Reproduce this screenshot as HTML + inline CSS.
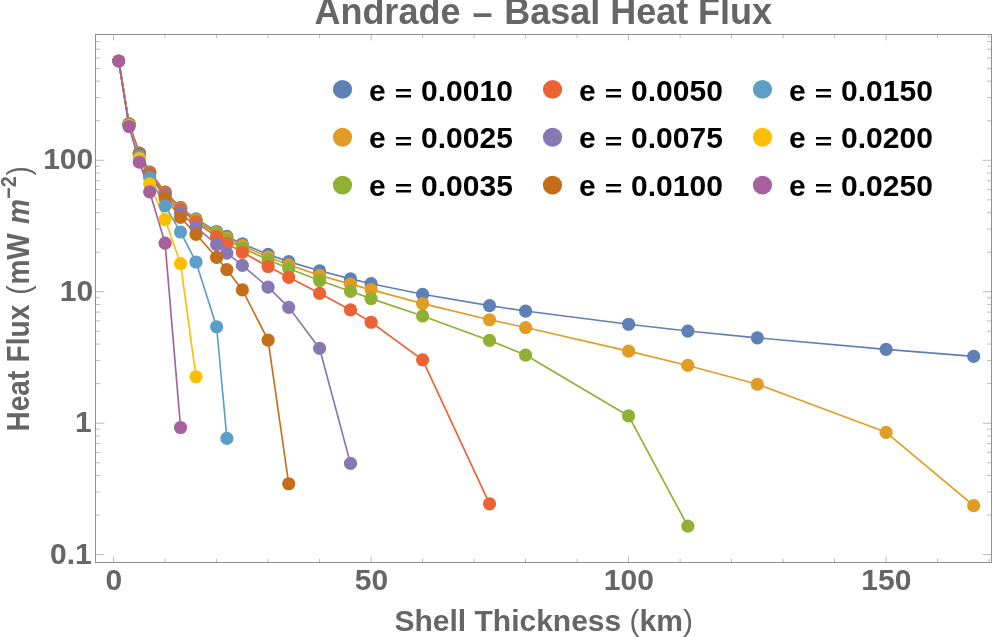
<!DOCTYPE html>
<html><head><meta charset="utf-8"><title>Andrade - Basal Heat Flux</title>
<style>
html,body{margin:0;padding:0;background:#fff;}
body{width:992px;height:637px;overflow:hidden;}
svg{display:block;}
text{font-family:"Liberation Sans",Arial,Helvetica,sans-serif;font-weight:bold;}
.g{fill:#666;}
.k{fill:#000;}
</style></head><body>
<svg width="992" height="637" viewBox="0 0 992 637">
<rect width="992" height="637" fill="#fff"/>
<g><path d="M113.6 562.5v-6M113.6 34.5v6" stroke="#8c8c8c" stroke-width="0.6" fill="none"/>
<path d="M165.1 562.5v-3.8M165.1 34.5v3.8" stroke="#8c8c8c" stroke-width="0.6" fill="none"/>
<path d="M216.6 562.5v-3.8M216.6 34.5v3.8" stroke="#8c8c8c" stroke-width="0.6" fill="none"/>
<path d="M268.1 562.5v-3.8M268.1 34.5v3.8" stroke="#8c8c8c" stroke-width="0.6" fill="none"/>
<path d="M319.6 562.5v-3.8M319.6 34.5v3.8" stroke="#8c8c8c" stroke-width="0.6" fill="none"/>
<path d="M371.1 562.5v-6M371.1 34.5v6" stroke="#8c8c8c" stroke-width="0.6" fill="none"/>
<path d="M422.6 562.5v-3.8M422.6 34.5v3.8" stroke="#8c8c8c" stroke-width="0.6" fill="none"/>
<path d="M474.1 562.5v-3.8M474.1 34.5v3.8" stroke="#8c8c8c" stroke-width="0.6" fill="none"/>
<path d="M525.6 562.5v-3.8M525.6 34.5v3.8" stroke="#8c8c8c" stroke-width="0.6" fill="none"/>
<path d="M577.1 562.5v-3.8M577.1 34.5v3.8" stroke="#8c8c8c" stroke-width="0.6" fill="none"/>
<path d="M628.6 562.5v-6M628.6 34.5v6" stroke="#8c8c8c" stroke-width="0.6" fill="none"/>
<path d="M680.1 562.5v-3.8M680.1 34.5v3.8" stroke="#8c8c8c" stroke-width="0.6" fill="none"/>
<path d="M731.6 562.5v-3.8M731.6 34.5v3.8" stroke="#8c8c8c" stroke-width="0.6" fill="none"/>
<path d="M783.1 562.5v-3.8M783.1 34.5v3.8" stroke="#8c8c8c" stroke-width="0.6" fill="none"/>
<path d="M834.6 562.5v-3.8M834.6 34.5v3.8" stroke="#8c8c8c" stroke-width="0.6" fill="none"/>
<path d="M886.1 562.5v-6M886.1 34.5v6" stroke="#8c8c8c" stroke-width="0.6" fill="none"/>
<path d="M937.6 562.5v-3.8M937.6 34.5v3.8" stroke="#8c8c8c" stroke-width="0.6" fill="none"/>
<path d="M989.1 562.5v-3.8M989.1 34.5v3.8" stroke="#8c8c8c" stroke-width="0.6" fill="none"/>
<path d="M95.5 554.65h8.8M991.5 554.65h-8.8" stroke="#8c8c8c" stroke-width="0.6" fill="none"/>
<path d="M95.5 515.08h4.4M991.5 515.08h-4.4" stroke="#8c8c8c" stroke-width="0.6" fill="none"/>
<path d="M95.5 491.93h4.4M991.5 491.93h-4.4" stroke="#8c8c8c" stroke-width="0.6" fill="none"/>
<path d="M95.5 475.51h4.4M991.5 475.51h-4.4" stroke="#8c8c8c" stroke-width="0.6" fill="none"/>
<path d="M95.5 462.77h4.4M991.5 462.77h-4.4" stroke="#8c8c8c" stroke-width="0.6" fill="none"/>
<path d="M95.5 452.36h4.4M991.5 452.36h-4.4" stroke="#8c8c8c" stroke-width="0.6" fill="none"/>
<path d="M95.5 443.56h4.4M991.5 443.56h-4.4" stroke="#8c8c8c" stroke-width="0.6" fill="none"/>
<path d="M95.5 435.94h4.4M991.5 435.94h-4.4" stroke="#8c8c8c" stroke-width="0.6" fill="none"/>
<path d="M95.5 429.21h4.4M991.5 429.21h-4.4" stroke="#8c8c8c" stroke-width="0.6" fill="none"/>
<path d="M95.5 423.2h8.8M991.5 423.2h-8.8" stroke="#8c8c8c" stroke-width="0.6" fill="none"/>
<path d="M95.5 383.63h4.4M991.5 383.63h-4.4" stroke="#8c8c8c" stroke-width="0.6" fill="none"/>
<path d="M95.5 360.48h4.4M991.5 360.48h-4.4" stroke="#8c8c8c" stroke-width="0.6" fill="none"/>
<path d="M95.5 344.06h4.4M991.5 344.06h-4.4" stroke="#8c8c8c" stroke-width="0.6" fill="none"/>
<path d="M95.5 331.32h4.4M991.5 331.32h-4.4" stroke="#8c8c8c" stroke-width="0.6" fill="none"/>
<path d="M95.5 320.91h4.4M991.5 320.91h-4.4" stroke="#8c8c8c" stroke-width="0.6" fill="none"/>
<path d="M95.5 312.11h4.4M991.5 312.11h-4.4" stroke="#8c8c8c" stroke-width="0.6" fill="none"/>
<path d="M95.5 304.49h4.4M991.5 304.49h-4.4" stroke="#8c8c8c" stroke-width="0.6" fill="none"/>
<path d="M95.5 297.76h4.4M991.5 297.76h-4.4" stroke="#8c8c8c" stroke-width="0.6" fill="none"/>
<path d="M95.5 291.75h8.8M991.5 291.75h-8.8" stroke="#8c8c8c" stroke-width="0.6" fill="none"/>
<path d="M95.5 252.18h4.4M991.5 252.18h-4.4" stroke="#8c8c8c" stroke-width="0.6" fill="none"/>
<path d="M95.5 229.03h4.4M991.5 229.03h-4.4" stroke="#8c8c8c" stroke-width="0.6" fill="none"/>
<path d="M95.5 212.61h4.4M991.5 212.61h-4.4" stroke="#8c8c8c" stroke-width="0.6" fill="none"/>
<path d="M95.5 199.87h4.4M991.5 199.87h-4.4" stroke="#8c8c8c" stroke-width="0.6" fill="none"/>
<path d="M95.5 189.46h4.4M991.5 189.46h-4.4" stroke="#8c8c8c" stroke-width="0.6" fill="none"/>
<path d="M95.5 180.66h4.4M991.5 180.66h-4.4" stroke="#8c8c8c" stroke-width="0.6" fill="none"/>
<path d="M95.5 173.04h4.4M991.5 173.04h-4.4" stroke="#8c8c8c" stroke-width="0.6" fill="none"/>
<path d="M95.5 166.31h4.4M991.5 166.31h-4.4" stroke="#8c8c8c" stroke-width="0.6" fill="none"/>
<path d="M95.5 160.3h8.8M991.5 160.3h-8.8" stroke="#8c8c8c" stroke-width="0.6" fill="none"/>
<path d="M95.5 120.73h4.4M991.5 120.73h-4.4" stroke="#8c8c8c" stroke-width="0.6" fill="none"/>
<path d="M95.5 97.58h4.4M991.5 97.58h-4.4" stroke="#8c8c8c" stroke-width="0.6" fill="none"/>
<path d="M95.5 81.16h4.4M991.5 81.16h-4.4" stroke="#8c8c8c" stroke-width="0.6" fill="none"/>
<path d="M95.5 68.42h4.4M991.5 68.42h-4.4" stroke="#8c8c8c" stroke-width="0.6" fill="none"/>
<path d="M95.5 58.01h4.4M991.5 58.01h-4.4" stroke="#8c8c8c" stroke-width="0.6" fill="none"/>
<path d="M95.5 49.21h4.4M991.5 49.21h-4.4" stroke="#8c8c8c" stroke-width="0.6" fill="none"/>
<path d="M95.5 41.59h4.4M991.5 41.59h-4.4" stroke="#8c8c8c" stroke-width="0.6" fill="none"/></g>
<rect x="95.5" y="34.5" width="896.0" height="528.0" fill="none" stroke="#858585" stroke-width="0.9"/>
<path d="M118.75 61.0 L129.05 123.9 L139.35 153.1 L149.65 172.0 L165.1 192.0 L180.55 207.4 L196.0 218.8 L216.6 231.5 L226.9 236.45 L242.35 243.9 L268.1 254.4 L288.7 261.6 L319.6 270.8 L350.5 278.9 L371.1 283.7 L422.6 294.3 L489.55 305.65 L525.6 311.05 L628.6 324.25 L687.83 331.05 L757.35 337.85 L886.1 349.35 L973.65 356.35" fill="none" stroke="#5E81B5" stroke-width="1.65" stroke-linejoin="round"/>
<path d="M118.75 61.0 L129.05 124.0 L139.35 153.2 L149.65 172.1 L165.1 192.2 L180.55 207.8 L196.0 219.5 L216.6 232.7 L226.9 237.85 L242.35 245.65 L268.1 257.0 L288.7 264.8 L319.6 275.4 L350.5 284.1 L371.1 289.6 L422.6 303.6 L489.55 319.75 L525.6 327.55 L628.6 351.15 L687.83 365.45 L757.35 384.25 L886.1 432.35 L973.65 505.55" fill="none" stroke="#E19C24" stroke-width="1.65" stroke-linejoin="round"/>
<path d="M118.75 61.0 L129.05 124.1 L139.35 153.4 L149.65 172.3 L165.1 192.45 L180.55 208.25 L196.0 220.3 L216.6 233.95 L226.9 239.75 L242.35 248.05 L268.1 259.8 L288.7 268.4 L319.6 280.5 L350.5 291.3 L371.1 298.6 L422.6 316.0 L489.55 340.45 L525.6 355.05 L628.6 415.95 L687.83 526.15" fill="none" stroke="#8FB032" stroke-width="1.65" stroke-linejoin="round"/>
<path d="M118.75 61.0 L129.05 124.2 L139.35 153.6 L149.65 172.6 L165.1 192.9 L180.55 209.2 L196.0 222.0 L216.6 236.95 L226.9 243.45 L242.35 252.25 L268.1 266.5 L288.7 277.3 L319.6 293.35 L350.5 309.9 L371.1 322.25 L422.6 359.85 L489.55 503.85" fill="none" stroke="#EB6235" stroke-width="1.65" stroke-linejoin="round"/>
<path d="M118.75 61.0 L129.05 124.3 L139.35 153.9 L149.65 173.0 L165.1 195.2 L180.55 212.9 L196.0 227.0 L216.6 244.65 L226.9 253.05 L242.35 265.45 L268.1 287.15 L288.7 307.35 L319.6 348.45 L350.5 463.45" fill="none" stroke="#8778B3" stroke-width="1.65" stroke-linejoin="round"/>
<path d="M118.75 61.0 L129.05 124.4 L139.35 154.3 L149.65 174.5 L165.1 198.1 L180.55 217.4 L196.0 234.3 L216.6 257.45 L226.9 269.65 L242.35 289.95 L268.1 340.05 L288.7 483.75" fill="none" stroke="#C56E1A" stroke-width="1.65" stroke-linejoin="round"/>
<path d="M118.75 61.0 L129.05 124.8 L139.35 156.3 L149.65 177.6 L165.1 205.8 L180.55 232.0 L196.0 262.0 L216.6 326.75 L226.9 438.45" fill="none" stroke="#5D9EC7" stroke-width="1.65" stroke-linejoin="round"/>
<path d="M118.75 60.6 L129.05 125.7 L139.35 158.5 L149.65 183.8 L165.1 219.5 L180.55 263.6 L196.0 376.75" fill="none" stroke="#FFBF00" stroke-width="1.65" stroke-linejoin="round"/>
<path d="M118.75 61.0 L129.05 126.5 L139.35 162.2 L149.65 191.8 L165.1 243.2 L180.55 427.5" fill="none" stroke="#A5609D" stroke-width="1.65" stroke-linejoin="round"/>
<g fill="#5E81B5"><circle cx="118.75" cy="61.0" r="6.2"/><circle cx="129.05" cy="123.9" r="6.6"/><circle cx="139.35" cy="153.1" r="6.6"/><circle cx="149.65" cy="172.0" r="6.6"/><circle cx="165.1" cy="192.0" r="6.6"/><circle cx="180.55" cy="207.4" r="6.6"/><circle cx="196.0" cy="218.8" r="6.6"/><circle cx="216.6" cy="231.5" r="6.6"/><circle cx="226.9" cy="236.45" r="6.6"/><circle cx="242.35" cy="243.9" r="6.6"/><circle cx="268.1" cy="254.4" r="6.6"/><circle cx="288.7" cy="261.6" r="6.6"/><circle cx="319.6" cy="270.8" r="6.6"/><circle cx="350.5" cy="278.9" r="6.6"/><circle cx="371.1" cy="283.7" r="6.6"/><circle cx="422.6" cy="294.3" r="6.6"/><circle cx="489.55" cy="305.65" r="6.6"/><circle cx="525.6" cy="311.05" r="6.6"/><circle cx="628.6" cy="324.25" r="6.6"/><circle cx="687.83" cy="331.05" r="6.6"/><circle cx="757.35" cy="337.85" r="6.6"/><circle cx="886.1" cy="349.35" r="6.6"/><circle cx="973.65" cy="356.35" r="6.6"/></g>
<g fill="#E19C24"><circle cx="118.75" cy="61.0" r="6.2"/><circle cx="129.05" cy="124.0" r="6.6"/><circle cx="139.35" cy="153.2" r="6.6"/><circle cx="149.65" cy="172.1" r="6.6"/><circle cx="165.1" cy="192.2" r="6.6"/><circle cx="180.55" cy="207.8" r="6.6"/><circle cx="196.0" cy="219.5" r="6.6"/><circle cx="216.6" cy="232.7" r="6.6"/><circle cx="226.9" cy="237.85" r="6.6"/><circle cx="242.35" cy="245.65" r="6.6"/><circle cx="268.1" cy="257.0" r="6.6"/><circle cx="288.7" cy="264.8" r="6.6"/><circle cx="319.6" cy="275.4" r="6.6"/><circle cx="350.5" cy="284.1" r="6.6"/><circle cx="371.1" cy="289.6" r="6.6"/><circle cx="422.6" cy="303.6" r="6.6"/><circle cx="489.55" cy="319.75" r="6.6"/><circle cx="525.6" cy="327.55" r="6.6"/><circle cx="628.6" cy="351.15" r="6.6"/><circle cx="687.83" cy="365.45" r="6.6"/><circle cx="757.35" cy="384.25" r="6.6"/><circle cx="886.1" cy="432.35" r="6.6"/><circle cx="973.65" cy="505.55" r="6.6"/></g>
<g fill="#8FB032"><circle cx="118.75" cy="61.0" r="6.2"/><circle cx="129.05" cy="124.1" r="6.6"/><circle cx="139.35" cy="153.4" r="6.6"/><circle cx="149.65" cy="172.3" r="6.6"/><circle cx="165.1" cy="192.45" r="6.6"/><circle cx="180.55" cy="208.25" r="6.6"/><circle cx="196.0" cy="220.3" r="6.6"/><circle cx="216.6" cy="233.95" r="6.6"/><circle cx="226.9" cy="239.75" r="6.6"/><circle cx="242.35" cy="248.05" r="6.6"/><circle cx="268.1" cy="259.8" r="6.6"/><circle cx="288.7" cy="268.4" r="6.6"/><circle cx="319.6" cy="280.5" r="6.6"/><circle cx="350.5" cy="291.3" r="6.6"/><circle cx="371.1" cy="298.6" r="6.6"/><circle cx="422.6" cy="316.0" r="6.6"/><circle cx="489.55" cy="340.45" r="6.6"/><circle cx="525.6" cy="355.05" r="6.6"/><circle cx="628.6" cy="415.95" r="6.6"/><circle cx="687.83" cy="526.15" r="6.6"/></g>
<g fill="#EB6235"><circle cx="118.75" cy="61.0" r="6.2"/><circle cx="129.05" cy="124.2" r="6.6"/><circle cx="139.35" cy="153.6" r="6.6"/><circle cx="149.65" cy="172.6" r="6.6"/><circle cx="165.1" cy="192.9" r="6.6"/><circle cx="180.55" cy="209.2" r="6.6"/><circle cx="196.0" cy="222.0" r="6.6"/><circle cx="216.6" cy="236.95" r="6.6"/><circle cx="226.9" cy="243.45" r="6.6"/><circle cx="242.35" cy="252.25" r="6.6"/><circle cx="268.1" cy="266.5" r="6.6"/><circle cx="288.7" cy="277.3" r="6.6"/><circle cx="319.6" cy="293.35" r="6.6"/><circle cx="350.5" cy="309.9" r="6.6"/><circle cx="371.1" cy="322.25" r="6.6"/><circle cx="422.6" cy="359.85" r="6.6"/><circle cx="489.55" cy="503.85" r="6.6"/></g>
<g fill="#8778B3"><circle cx="118.75" cy="61.0" r="6.2"/><circle cx="129.05" cy="124.3" r="6.6"/><circle cx="139.35" cy="153.9" r="6.6"/><circle cx="149.65" cy="173.0" r="6.6"/><circle cx="165.1" cy="195.2" r="6.6"/><circle cx="180.55" cy="212.9" r="6.6"/><circle cx="196.0" cy="227.0" r="6.6"/><circle cx="216.6" cy="244.65" r="6.6"/><circle cx="226.9" cy="253.05" r="6.6"/><circle cx="242.35" cy="265.45" r="6.6"/><circle cx="268.1" cy="287.15" r="6.6"/><circle cx="288.7" cy="307.35" r="6.6"/><circle cx="319.6" cy="348.45" r="6.6"/><circle cx="350.5" cy="463.45" r="6.6"/></g>
<g fill="#C56E1A"><circle cx="118.75" cy="61.0" r="6.2"/><circle cx="129.05" cy="124.4" r="6.6"/><circle cx="139.35" cy="154.3" r="6.6"/><circle cx="149.65" cy="174.5" r="6.6"/><circle cx="165.1" cy="198.1" r="6.6"/><circle cx="180.55" cy="217.4" r="6.6"/><circle cx="196.0" cy="234.3" r="6.6"/><circle cx="216.6" cy="257.45" r="6.6"/><circle cx="226.9" cy="269.65" r="6.6"/><circle cx="242.35" cy="289.95" r="6.6"/><circle cx="268.1" cy="340.05" r="6.6"/><circle cx="288.7" cy="483.75" r="6.6"/></g>
<g fill="#5D9EC7"><circle cx="118.75" cy="61.0" r="6.2"/><circle cx="129.05" cy="124.8" r="6.6"/><circle cx="139.35" cy="156.3" r="6.6"/><circle cx="149.65" cy="177.6" r="6.6"/><circle cx="165.1" cy="205.8" r="6.6"/><circle cx="180.55" cy="232.0" r="6.6"/><circle cx="196.0" cy="262.0" r="6.6"/><circle cx="216.6" cy="326.75" r="6.6"/><circle cx="226.9" cy="438.45" r="6.6"/></g>
<g fill="#FFBF00"><circle cx="118.75" cy="60.6" r="6.2"/><circle cx="129.05" cy="125.7" r="6.6"/><circle cx="139.35" cy="158.5" r="6.6"/><circle cx="149.65" cy="183.8" r="6.6"/><circle cx="165.1" cy="219.5" r="6.6"/><circle cx="180.55" cy="263.6" r="6.6"/><circle cx="196.0" cy="376.75" r="6.6"/></g>
<g fill="#A5609D"><circle cx="118.75" cy="61.0" r="6.6"/><circle cx="129.05" cy="126.5" r="6.6"/><circle cx="139.35" cy="162.2" r="6.6"/><circle cx="149.65" cy="191.8" r="6.6"/><circle cx="165.1" cy="243.2" r="6.6"/><circle cx="180.55" cy="427.5" r="6.6"/></g>
<ellipse cx="342.5" cy="89.45" rx="9.6" ry="9.4" fill="#5E81B5"/><text class="k" y="100.6" font-size="30"><tspan x="368.9">e </tspan><tspan x="394.8" dy="0.2" font-size="22.5" textLength="25.86" lengthAdjust="spacingAndGlyphs">= </tspan><tspan x="421.1" dy="-0.2">0.0010</tspan></text>
<ellipse cx="342.5" cy="137.25" rx="9.6" ry="9.4" fill="#E19C24"/><text class="k" y="148.4" font-size="30"><tspan x="368.9">e </tspan><tspan x="394.8" dy="0.2" font-size="22.5" textLength="25.86" lengthAdjust="spacingAndGlyphs">= </tspan><tspan x="421.1" dy="-0.2">0.0025</tspan></text>
<ellipse cx="342.5" cy="185.05" rx="9.6" ry="9.4" fill="#8FB032"/><text class="k" y="196.2" font-size="30"><tspan x="368.9">e </tspan><tspan x="394.8" dy="0.2" font-size="22.5" textLength="25.86" lengthAdjust="spacingAndGlyphs">= </tspan><tspan x="421.1" dy="-0.2">0.0035</tspan></text>
<ellipse cx="552.5" cy="89.45" rx="9.6" ry="9.4" fill="#EB6235"/><text class="k" y="100.6" font-size="30"><tspan x="578.9">e </tspan><tspan x="604.8" dy="0.2" font-size="22.5" textLength="25.86" lengthAdjust="spacingAndGlyphs">= </tspan><tspan x="631.1" dy="-0.2">0.0050</tspan></text>
<ellipse cx="552.5" cy="137.25" rx="9.6" ry="9.4" fill="#8778B3"/><text class="k" y="148.4" font-size="30"><tspan x="578.9">e </tspan><tspan x="604.8" dy="0.2" font-size="22.5" textLength="25.86" lengthAdjust="spacingAndGlyphs">= </tspan><tspan x="631.1" dy="-0.2">0.0075</tspan></text>
<ellipse cx="552.5" cy="185.05" rx="9.6" ry="9.4" fill="#C56E1A"/><text class="k" y="196.2" font-size="30"><tspan x="578.9">e </tspan><tspan x="604.8" dy="0.2" font-size="22.5" textLength="25.86" lengthAdjust="spacingAndGlyphs">= </tspan><tspan x="631.1" dy="-0.2">0.0100</tspan></text>
<ellipse cx="762.5" cy="89.45" rx="9.6" ry="9.4" fill="#5D9EC7"/><text class="k" y="100.6" font-size="30"><tspan x="788.9">e </tspan><tspan x="814.8" dy="0.2" font-size="22.5" textLength="25.86" lengthAdjust="spacingAndGlyphs">= </tspan><tspan x="841.1" dy="-0.2">0.0150</tspan></text>
<ellipse cx="762.5" cy="137.25" rx="9.6" ry="9.4" fill="#FFBF00"/><text class="k" y="148.4" font-size="30"><tspan x="788.9">e </tspan><tspan x="814.8" dy="0.2" font-size="22.5" textLength="25.86" lengthAdjust="spacingAndGlyphs">= </tspan><tspan x="841.1" dy="-0.2">0.0200</tspan></text>
<ellipse cx="762.5" cy="185.05" rx="9.6" ry="9.4" fill="#A5609D"/><text class="k" y="196.2" font-size="30"><tspan x="788.9">e </tspan><tspan x="814.8" dy="0.2" font-size="22.5" textLength="25.86" lengthAdjust="spacingAndGlyphs">= </tspan><tspan x="841.1" dy="-0.2">0.0250</tspan></text>
<text class="g" x="93.2" y="169.2" font-size="30" text-anchor="end">100</text>
<text class="g" x="93.2" y="300.6" font-size="30" text-anchor="end">10</text>
<text class="g" x="91.8" y="432.1" font-size="30" text-anchor="end">1</text>
<text class="g" x="91.8" y="563.5" font-size="30" text-anchor="end">0.1</text>
<text class="g" x="113.89999999999999" y="590.4" font-size="30" text-anchor="middle">0</text>
<text class="g" x="371.40000000000003" y="590.4" font-size="30" text-anchor="middle">50</text>
<text class="g" x="628.9" y="590.4" font-size="30" text-anchor="middle">100</text>
<text class="g" x="886.4" y="590.4" font-size="30" text-anchor="middle">150</text>
<text class="g" x="543.7" y="631.1" font-size="30" text-anchor="middle">Shell Thickness <tspan font-weight="normal">(</tspan>km<tspan font-weight="normal">)</tspan></text>
<text class="g" transform="translate(29.3 431.5) rotate(-90) scale(0.935 1.066)" font-size="30"><tspan x="0">Heat </tspan><tspan x="73.9">Flux </tspan><tspan x="146.2" font-weight="normal">(</tspan><tspan x="157.11">mW </tspan><tspan x="221.82" font-style="italic">m</tspan><tspan x="248.98" dy="-12.2" font-size="21">−2</tspan><tspan x="273.69" dy="12.2" font-weight="normal">)</tspan></text>
<text class="g" y="24.3" font-size="36"><tspan x="314.4">Andrade </tspan><tspan x="472.6" dy="1">– </tspan><tspan x="504.3" dy="-1">Basal </tspan><tspan x="610.2">Heat </tspan><tspan x="698">Flux</tspan></text>
</svg></body></html>
